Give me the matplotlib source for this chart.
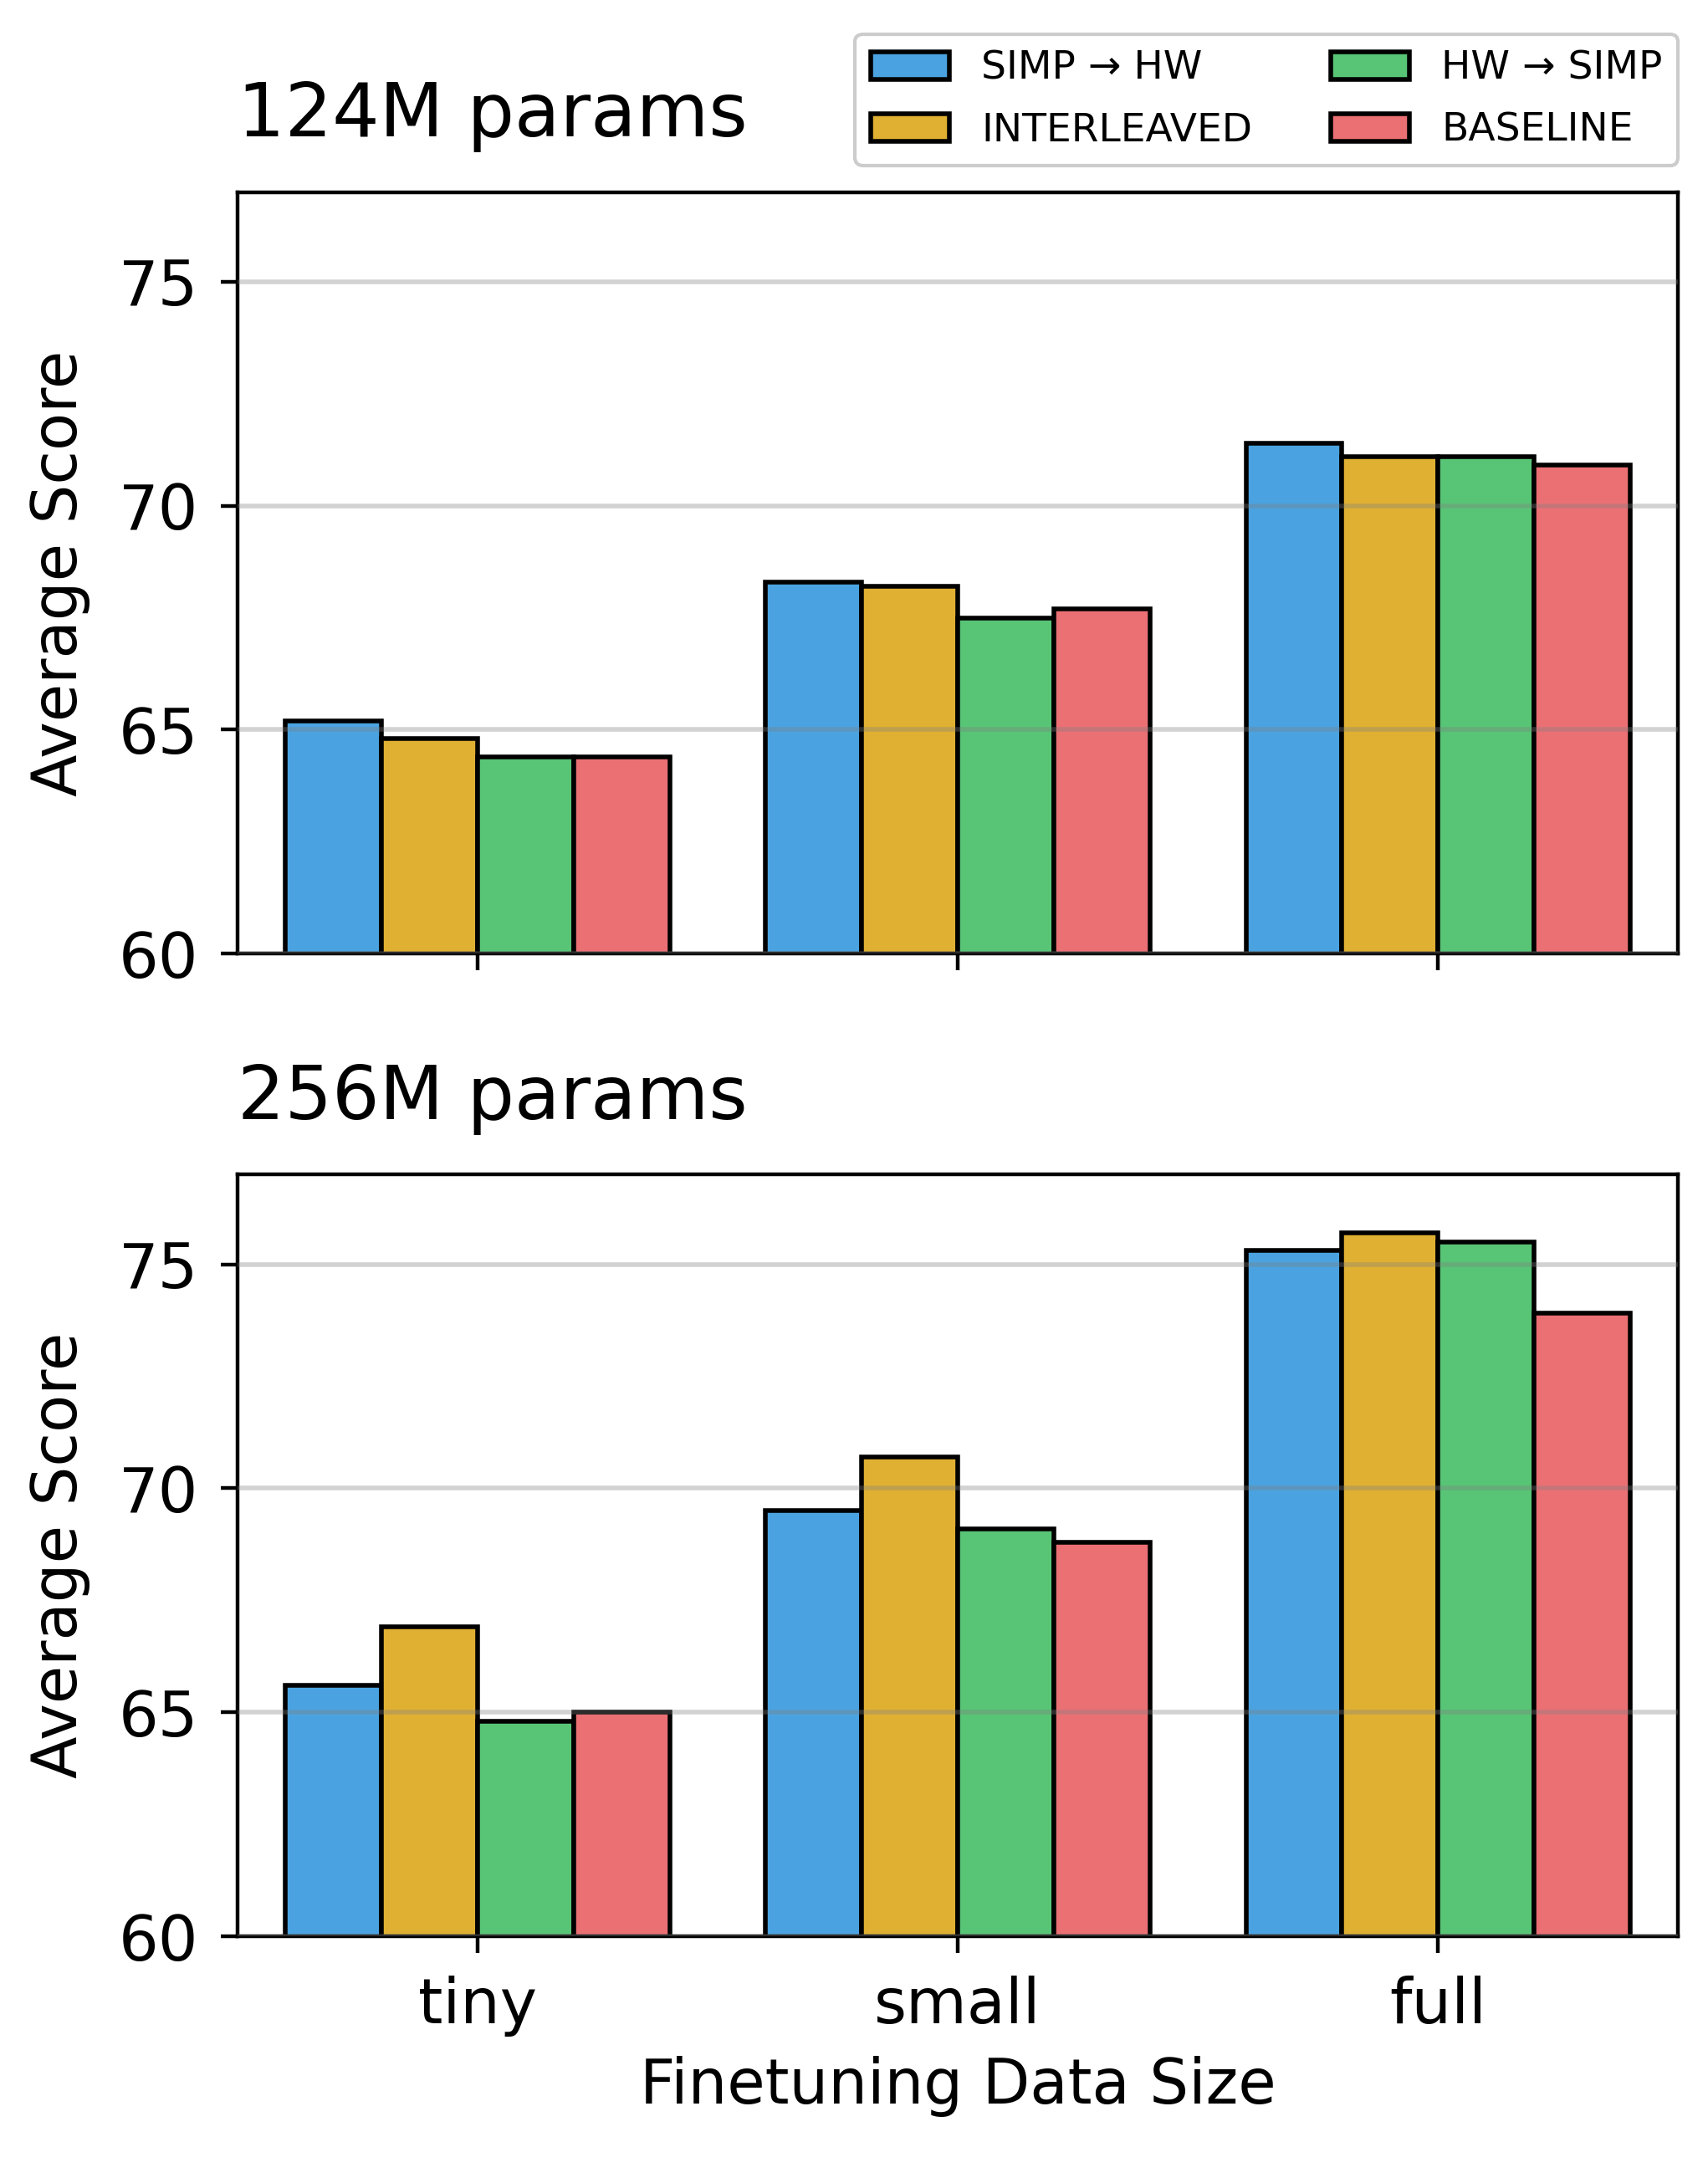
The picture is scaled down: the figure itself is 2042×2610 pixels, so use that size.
import numpy as np
import matplotlib
matplotlib.use("Agg")
import matplotlib.pyplot as plt

# дані
sizes = ["tiny", "small", "full"]
methods = ["SIMP → HW", "INTERLEAVED", "HW → SIMP", "BASELINE"]
colors = ["#4AA3E0", "#E0B032", "#58C476", "#EB7074"]

scores_124m = {
    "SIMP → HW":   [65.2, 68.3, 71.4],
    "INTERLEAVED": [64.8, 68.2, 71.1],
    "HW → SIMP":   [64.4, 67.5, 71.1],
    "BASELINE":    [64.4, 67.7, 70.9],
}
scores_256m = {
    "SIMP → HW":   [65.6, 69.5, 75.3],
    "INTERLEAVED": [66.9, 70.7, 75.7],
    "HW → SIMP":   [64.8, 69.1, 75.5],
    "BASELINE":    [65.0, 68.8, 73.9],
}
titles = ["124M params", "256M params"]

s = 4 / 3  # масштаб шрифтів і ліній
plt.rcParams["axes.linewidth"] = 0.8 * s

fig, axes = plt.subplots(2, 1, figsize=(2043 / 300, 2610 / 300), dpi=300, sharex=True)
fig.subplots_adjust(left=0.139, right=0.982, top=0.912, bottom=0.113, hspace=0.29)

x = np.arange(len(sizes))
width = 0.2

for ax, data, title in zip(axes, [scores_124m, scores_256m], titles):
    for i, m in enumerate(methods):
        ax.bar(x + (i - 1.5) * width, data[m], width, color=colors[i],
               edgecolor="black", linewidth=1.0 * s, label=m, zorder=2)
    ax.set_ylim(60, 77)
    ax.set_yticks([60, 65, 70, 75])
    ax.grid(axis="y", color="gray", alpha=0.35, linewidth=1.0 * s, zorder=3)
    ax.set_axisbelow(False)
    ax.set_ylabel("Average Score", fontsize=17.7, labelpad=8)
    ax.set_title(title, loc="left", fontsize=16 * s, pad=16)
    ax.tick_params(axis="both", labelsize=18, length=4.8, width=0.8 * s, pad=6.5)
    ax.set_xlim(-0.5, 2.5)

axes[1].set_xticks(x)
axes[1].set_xticklabels(sizes)
axes[1].set_xlabel("Finetuning Data Size", fontsize=17.7, labelpad=5.5)

axes[0].legend(ncol=2, loc="lower right", bbox_to_anchor=(1.0, 1.035),
               borderaxespad=0, fontsize=11.3, edgecolor="#cccccc", framealpha=1,
               labelspacing=0.62)

plt.savefig("out.png", dpi=300)
